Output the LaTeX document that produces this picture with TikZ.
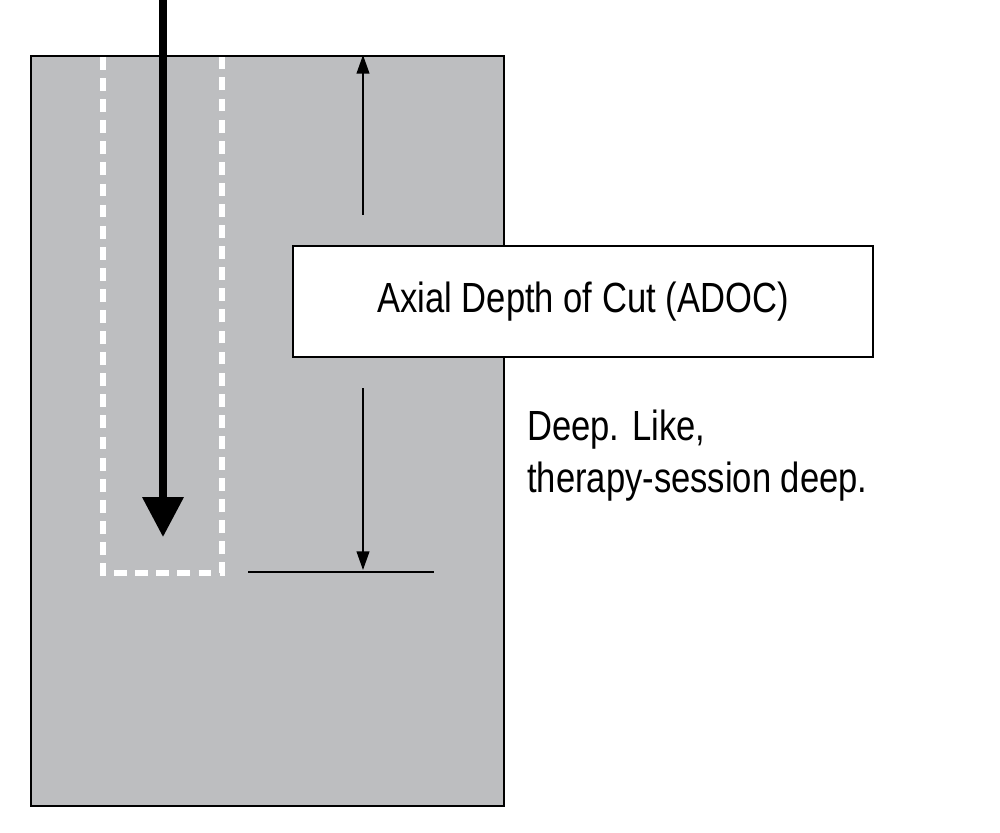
\documentclass[tikz,border=0pt]{standalone}
\usepackage{fontspec}
\setmainfont{Liberation Sans}
\usetikzlibrary{arrows.meta}
\definecolor{block}{HTML}{BDBEC0}
\begin{document}
\begin{tikzpicture}[x=0.3mm,y=-0.3mm,
  lbl/.style={font=\fontsize{36}{44}\selectfont, xscale=0.82, inner sep=0},
  dim/.style={line width=1.3pt,-{Triangle[length=16pt,width=11pt]}}]
\useasboundingbox (0,0) rectangle (1000,833);
\node[draw=black, line width=1.5pt, fill=block, minimum width=473*0.3mm, minimum height=750*0.3mm, inner sep=0, anchor=north west] (blk) at (30,55) {};
\draw[white, line width=5pt, dash pattern=on 11pt off 7pt] (103,57) -- (103,573) -- (222,573) -- (222,57);
\coordinate (top) at (163,0);
\coordinate (tip) at (163,537);
\draw[line width=6pt, -{Triangle[length=34pt,width=34pt]}] (top) -- (tip);
\node[draw=black, line width=1.5pt, fill=white, minimum width=580*0.3mm, minimum height=111*0.3mm, inner sep=0] (box) at (583,301.5) {};
\node[lbl] at (box) {Axial Depth of Cut (ADOC)};
\coordinate (d1) at (363,215); \coordinate (d2) at (363,55);
\coordinate (d3) at (363,388); \coordinate (d4) at (363,570);
\draw[dim] (d1) -- (d2);
\draw[dim] (d3) -- (d4);
\coordinate (h1) at (248,572); \coordinate (h2) at (434,572);
\draw[line width=1.3pt] (h1) -- (h2);
\node[lbl, anchor=north west, align=left] (note) at (527,410) {Deep. Like,\\therapy-session deep.};
\end{tikzpicture}
\end{document}
